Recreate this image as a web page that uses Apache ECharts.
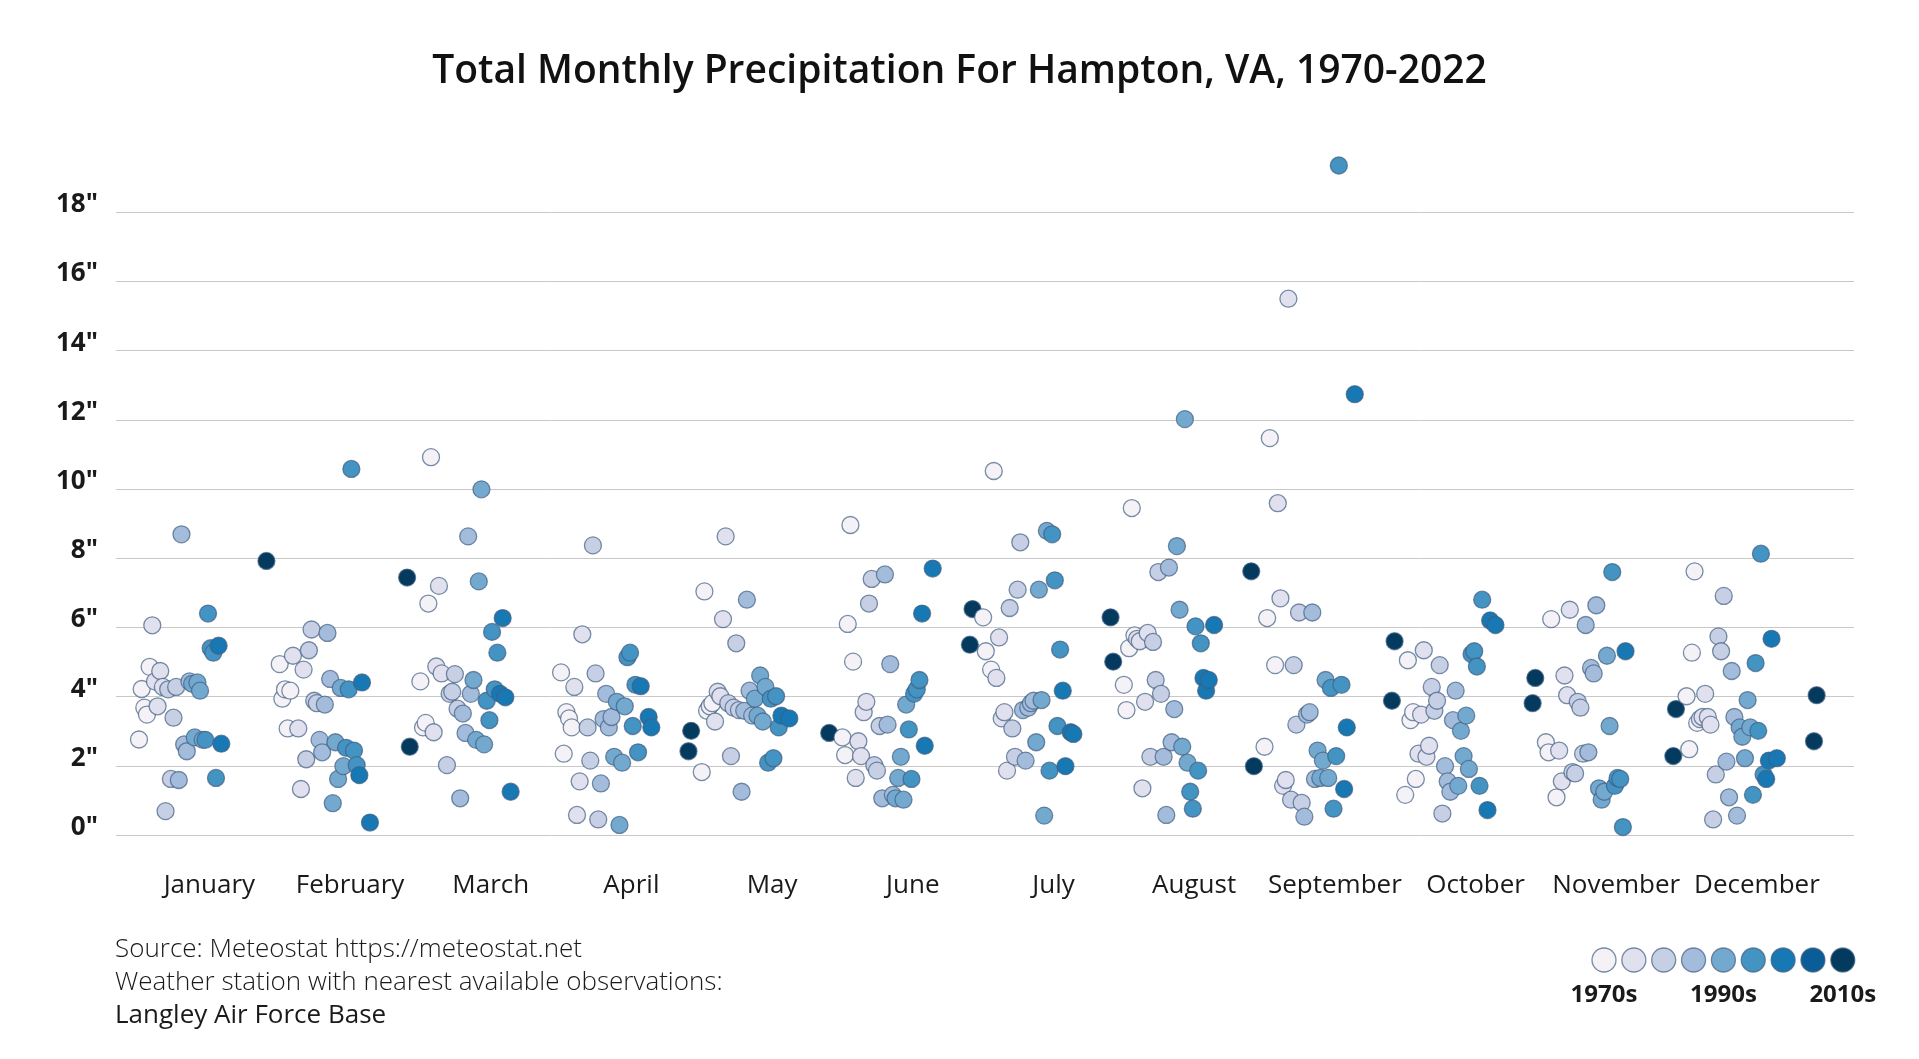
<!DOCTYPE html>
<html>
<head>
<meta charset="utf-8">
<title>Total Monthly Precipitation For Hampton, VA, 1970-2022</title>
<script src="https://cdn.jsdelivr.net/npm/echarts@6/dist/echarts.min.js"></script>
<style>
  html, body { margin: 0; padding: 0; background: #fff; }
  #main { width: 1919px; height: 1059px; }
</style>
</head>
<body>
<div id="main"></div>
<script>
var months = ['January', 'February', 'March', 'April', 'May', 'June',
              'July', 'August', 'September', 'October', 'November', 'December'];
var yTicks = [0, 2, 4, 6, 8, 10, 12, 14, 16, 18];
// 5-year periods from 1970, last one is 2010 onwards
var periodColors = ['#f4f1f7', '#e1e0ef', '#c7cfe5', '#a3bcdc', '#74a9cf',
                    '#4393c3', '#1878b4', '#0a5d97', '#033a5e'];
var periodLabels = ['1970s', '', '', '', '1990s', '', '', '', '2010s'];

// [year, total precipitation in inches]
var jan = [[1970,2.76],[1971,4.22],[1972,3.68],[1973,3.48],[1974,4.86],[1975,6.06],[1976,4.44],[1977,3.72],[1978,4.74],[1979,4.28],[1980,0.69],[1981,4.21],[1982,1.62],[1983,3.39],[1984,4.28],[1985,1.59],[1986,8.69],[1987,2.62],[1988,2.42],[1989,4.44],[1990,4.37],[1991,2.82],[1992,4.41],[1993,4.17],[1994,2.75],[1995,2.75],[1996,6.40],[1997,5.40],[1998,5.27],[1999,1.65],[2000,5.47],[2001,2.64],[2018,7.92]];
var feb = [[1970,4.94],[1971,3.94],[1972,4.21],[1973,3.08],[1974,4.17],[1975,5.18],[1977,3.08],[1978,1.33],[1979,4.78],[1980,2.19],[1981,5.34],[1982,5.94],[1983,3.88],[1984,3.81],[1985,2.75],[1986,2.39],[1987,3.77],[1988,5.84],[1989,4.51],[1990,0.92],[1991,2.68],[1992,1.62],[1993,4.25],[1994,1.99],[1995,2.52],[1996,4.21],[1997,10.58],[1998,2.44],[1999,2.02],[2000,1.73],[2001,4.41],[2004,0.36],[2018,7.44],[2019,2.55]];
var mar = [[1970,4.44],[1971,3.11],[1972,3.24],[1973,6.69],[1974,10.92],[1975,2.97],[1976,4.87],[1977,7.20],[1978,4.67],[1980,2.02],[1981,4.08],[1982,4.14],[1983,4.65],[1984,3.65],[1985,1.06],[1986,3.51],[1987,2.95],[1988,8.63],[1989,4.08],[1990,4.48],[1991,2.75],[1992,7.33],[1993,9.99],[1994,2.62],[1995,3.88],[1996,3.32],[1997,5.87],[1998,4.21],[1999,5.27],[2000,4.08],[2001,6.27],[2002,3.98],[2004,1.25]];
var apr = [[1970,4.70],[1971,2.35],[1972,3.55],[1973,3.37],[1974,3.11],[1975,4.28],[1976,0.58],[1977,1.55],[1978,5.80],[1980,3.11],[1981,2.15],[1982,8.37],[1983,4.67],[1984,0.45],[1985,1.49],[1986,3.35],[1987,4.08],[1988,3.11],[1989,3.41],[1990,2.26],[1991,3.85],[1992,0.29],[1993,2.09],[1994,3.72],[1995,5.14],[1996,5.27],[1997,3.15],[1998,4.34],[1999,2.39],[2000,4.30],[2003,3.41],[2004,3.11],[2018,2.42],[2019,3.01]];
var may = [[1970,1.82],[1971,7.04],[1972,3.59],[1973,3.72],[1974,3.81],[1975,3.28],[1976,4.14],[1977,4.01],[1978,6.24],[1979,8.63],[1980,3.81],[1981,2.28],[1982,3.68],[1983,5.54],[1984,3.61],[1985,1.25],[1986,3.59],[1987,6.80],[1988,4.17],[1989,3.45],[1990,3.94],[1991,3.45],[1992,4.61],[1993,3.28],[1994,4.28],[1995,2.09],[1996,3.94],[1997,2.22],[1998,4.01],[1999,3.11],[2000,3.45],[2003,3.37],[2018,2.95]];
var jun = [[1970,2.82],[1971,2.31],[1972,6.10],[1973,8.96],[1974,5.01],[1975,1.65],[1976,2.71],[1977,2.28],[1978,3.55],[1979,3.85],[1980,6.69],[1981,7.40],[1982,2.02],[1983,1.86],[1984,3.15],[1985,1.06],[1986,7.53],[1987,3.19],[1988,4.94],[1989,1.16],[1990,1.06],[1991,1.65],[1992,2.26],[1993,1.02],[1994,3.77],[1995,3.05],[1996,1.62],[1997,4.08],[1998,4.21],[1999,4.48],[2000,6.40],[2001,2.58],[2004,7.70],[2018,5.50],[2019,6.53]];
var jul = [[1970,6.29],[1971,5.31],[1973,4.78],[1974,10.52],[1975,4.54],[1976,5.71],[1977,3.37],[1978,3.55],[1979,1.86],[1980,6.56],[1981,3.08],[1982,2.26],[1983,7.09],[1984,8.46],[1985,3.61],[1986,2.15],[1987,3.68],[1988,3.81],[1989,3.88],[1990,2.68],[1991,7.09],[1992,3.90],[1993,0.56],[1994,8.79],[1995,1.86],[1996,8.69],[1997,7.36],[1998,3.15],[1999,5.36],[2000,4.17],[2001,1.99],[2003,2.97],[2004,2.92],[2018,6.29],[2019,5.01]];
var aug = [[1970,4.34],[1971,3.61],[1972,5.40],[1973,9.45],[1974,5.77],[1975,5.67],[1976,5.60],[1977,1.35],[1978,3.85],[1979,5.84],[1980,2.26],[1981,5.58],[1982,4.48],[1983,7.60],[1984,4.08],[1985,2.26],[1986,0.58],[1987,7.73],[1988,2.68],[1989,3.64],[1990,8.35],[1991,6.51],[1992,2.55],[1993,12.02],[1994,2.09],[1995,1.25],[1996,0.76],[1997,6.03],[1998,1.86],[1999,5.54],[2000,4.54],[2001,4.17],[2002,4.48],[2004,6.07],[2018,7.62],[2019,1.99]];
var sep = [[1970,2.55],[1971,6.27],[1972,11.47],[1974,4.91],[1975,9.59],[1976,6.84],[1977,1.42],[1978,1.59],[1979,15.50],[1980,1.02],[1981,4.91],[1982,3.19],[1983,6.43],[1984,0.93],[1985,0.53],[1986,3.48],[1987,3.55],[1988,6.43],[1989,1.62],[1990,2.44],[1991,1.65],[1992,2.15],[1993,4.48],[1994,1.65],[1995,4.25],[1996,0.76],[1997,2.28],[1998,19.35],[1999,4.34],[2000,1.33],[2001,3.11],[2004,12.74],[2018,3.88],[2019,5.60]];
var oct = [[1970,1.16],[1971,5.05],[1972,3.32],[1973,3.55],[1974,1.62],[1975,2.35],[1976,3.48],[1977,5.34],[1978,2.26],[1979,2.58],[1980,4.28],[1981,3.59],[1982,3.88],[1983,4.91],[1984,0.62],[1985,1.99],[1986,1.55],[1987,1.25],[1988,3.32],[1989,4.17],[1990,1.42],[1991,3.01],[1992,2.28],[1993,3.45],[1994,1.91],[1995,5.23],[1996,5.31],[1997,4.87],[1998,1.42],[1999,6.80],[2001,0.72],[2002,6.20],[2004,6.07],[2018,3.81],[2019,4.54]];
var nov = [[1970,2.68],[1971,2.39],[1972,6.24],[1974,1.09],[1975,2.44],[1976,1.55],[1977,4.61],[1978,4.04],[1979,6.51],[1980,1.82],[1981,1.78],[1982,3.85],[1983,3.68],[1984,2.35],[1985,6.07],[1986,2.39],[1987,4.83],[1988,4.67],[1989,6.64],[1990,1.35],[1991,1.02],[1992,1.25],[1993,5.18],[1994,3.15],[1995,7.60],[1996,1.42],[1997,1.65],[1998,1.62],[1999,0.23],[2000,5.31],[2018,2.28],[2019,3.64]];
var dec = [[1970,4.01],[1971,2.48],[1972,5.27],[1973,7.62],[1974,3.24],[1975,3.35],[1976,3.41],[1977,4.08],[1978,3.41],[1979,3.19],[1980,0.45],[1981,1.75],[1982,5.74],[1983,5.31],[1984,6.91],[1985,2.12],[1986,1.09],[1987,4.74],[1988,3.41],[1989,0.56],[1990,3.11],[1991,2.84],[1992,2.22],[1993,3.90],[1994,3.11],[1995,1.16],[1996,4.97],[1997,3.01],[1998,8.13],[1999,1.75],[2000,1.62],[2001,2.15],[2002,5.67],[2004,2.22],[2018,2.71],[2019,4.04]];

var byMonth = [jan, feb, mar, apr, may, jun, jul, aug, sep, oct, nov, dec];
var firstYear = 1970, yearSpan = 53;

function periodOf(year) {
  return Math.min(periodColors.length - 1, Math.floor((year - firstYear) / 5));
}

// each month gets one unit on the x axis, years spread left to right inside it
var points = [];
byMonth.forEach(function (list, m) {
  list.forEach(function (d) {
    points.push({
      value: [m + (d[0] - firstYear) / yearSpan, d[1], d[0]],
      itemStyle: { color: periodColors[periodOf(d[0])] }
    });
  });
});

var font = '"Open Sans", Lato, sans-serif';
var graphics = [];
periodColors.forEach(function (c, i) {
  var cx = 1604 + i * 29.85;
  graphics.push({
    type: 'circle', shape: { cx: cx, cy: 960, r: 12 },
    style: { fill: c, stroke: 'rgba(64,94,128,0.7)', lineWidth: 1.3 }
  });
  if (periodLabels[i]) {
    graphics.push({
      type: 'text', x: cx, y: 995,
      style: { text: periodLabels[i], font: 'bold 24px ' + font, fill: '#1a1a1a',
               align: 'center', verticalAlign: 'middle' }
    });
  }
});
var notes = [
  ['Source: Meteostat https://meteostat.net', 300, 950],
  ['Weather station with nearest available observations:', 300, 983],
  ['Langley Air Force Base', 500, 1016]
];
notes.forEach(function (n) {
  graphics.push({
    type: 'text', x: 115, y: n[2],
    style: { text: n[0], font: n[1] + ' 26px ' + font, fill: '#1a1a1a', verticalAlign: 'middle' }
  });
});

var myChart = echarts.init(document.getElementById('main'));
var option = {
  animation: false,
  backgroundColor: '#fff',
  title: {
    text: 'Total Monthly Precipitation For Hampton, VA, 1970-2022',
    left: 'center', top: 47,
    textStyle: { fontFamily: font, fontSize: 39, fontWeight: 600, color: '#111' }
  },
  grid: { left: 116, right: 65, top: 143, bottom: 224 },
  xAxis: {
    type: 'value', min: -0.1635, max: 12.19,
    splitLine: { show: false }, axisLine: { show: false }, axisTick: { show: false },
    axisLabel: {
      customValues: months.map(function (_, i) { return i + 0.5; }),
      formatter: function (v) { return months[Math.floor(v)]; },
      margin: 38, fontSize: 26, color: '#1a1a1a', fontFamily: font
    }
  },
  yAxis: {
    type: 'value', min: 0, max: 20, interval: 2,
    axisLine: { show: false }, axisTick: { show: false },
    axisLabel: {
      customValues: yTicks,
      formatter: function (v) { return v + '"'; },
      verticalAlign: 'bottom', lineHeight: 15,
      margin: 18, fontSize: 26, fontWeight: 'bold', color: '#1a1a1a', fontFamily: font
    },
    splitLine: { showMaxLine: false, lineStyle: { color: '#c8c8c8', width: 1 } }
  },
  graphic: graphics,
  series: [{
    type: 'scatter',
    data: points,
    symbolSize: 17,
    itemStyle: { borderColor: 'rgba(64,94,128,0.7)', borderWidth: 1.3, opacity: 1 },
    emphasis: { disabled: true }
  }]
};
myChart.setOption(option);
</script>
</body>
</html>
